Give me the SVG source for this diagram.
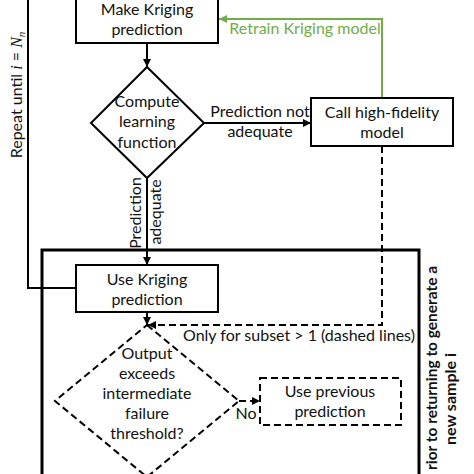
<svg xmlns="http://www.w3.org/2000/svg" width="474" height="474" viewBox="0 0 474 474">
<style>
text{font-family:Lato,"Open Sans","Liberation Sans",sans-serif;font-size:16px;fill:#111;text-anchor:middle}
.box{fill:#fff;stroke:#000;stroke-width:2}
.dbox{fill:#fff;stroke:#000;stroke-width:2;stroke-dasharray:7 4}
.ln{fill:none;stroke:#000;stroke-width:2}
.dln{fill:none;stroke:#000;stroke-width:2;stroke-dasharray:7 4}
.gln{fill:none;stroke:#70AD47;stroke-width:2}
.thick{fill:none;stroke:#000;stroke-width:3}
.green{fill:#70AD47}
.bold{font-weight:bold}
.math{font-family:"Liberation Serif","DejaVu Serif",serif;font-style:italic}
</style>
<defs>
<marker id="ah" viewBox="0 0 10 10" refX="10" refY="5" markerWidth="8" markerHeight="8" markerUnits="userSpaceOnUse" orient="auto"><path d="M0,0 L10,5 L0,10 z" fill="#000"/></marker>
<marker id="ahg" viewBox="0 0 10 10" refX="10" refY="5" markerWidth="8" markerHeight="8" markerUnits="userSpaceOnUse" orient="auto"><path d="M0,0 L10,5 L0,10 z" fill="#70AD47"/></marker>
</defs>

<g id="outer-frame">
<path class="thick" d="M42,480 V250 H419 V480"/>
</g>

<g id="connectors">
<path class="ln" d="M76,288 H28 V-5"/>
<path class="ln" d="M147,43 V67" marker-end="url(#ah)"/>
<path class="ln" d="M204,123 H311" marker-end="url(#ah)"/>
<path class="ln" d="M147,178 V265" marker-end="url(#ah)"/>
<path class="ln" d="M147,312 V325" marker-end="url(#ah)"/>
<path class="gln" d="M382,98 V19 H219" marker-end="url(#ahg)"/>
<path class="dln" d="M382,146 V325 H148" marker-end="url(#ah)"/>
<path class="dln" d="M239,401 H260" marker-end="url(#ah)"/>
</g>

<g id="make-kriging">
<rect class="box" x="76" y="-5" width="142" height="48"/>
<text x="147" y="15">Make Kriging</text>
<text x="147" y="35">prediction</text>
</g>

<g id="compute-learning">
<path class="box" d="M147,67 L204,123 L147,178 L91,123 Z"/>
<text x="147" y="107">Compute</text>
<text x="147" y="127">learning</text>
<text x="147" y="148">function</text>
</g>

<g id="call-hf">
<rect class="box" x="311" y="98" width="142" height="48"/>
<text x="382" y="118">Call high-fidelity</text>
<text x="382" y="138">model</text>
</g>

<g id="use-kriging">
<rect class="box" x="76" y="265" width="142" height="47"/>
<text x="147" y="285">Use Kriging</text>
<text x="147" y="305">prediction</text>
</g>

<g id="output-exceeds">
<path class="dbox" d="M147,325 L239,401 L147,477 L55,401 Z"/>
<text x="147" y="359">Output</text>
<text x="147" y="379">exceeds</text>
<text x="147" y="399">intermediate</text>
<text x="147" y="419">failure</text>
<text x="147" y="439">threshold?</text>
</g>

<g id="use-previous">
<rect class="dbox" x="260" y="378" width="141" height="47"/>
<text x="330" y="397">Use previous</text>
<text x="330" y="417">prediction</text>
</g>

<g id="labels">
<text x="260" y="117">Prediction not</text>
<text x="260" y="137">adequate</text>
<text transform="translate(141,213) rotate(-90)">Prediction</text>
<text transform="translate(161,212) rotate(-90)">adequate</text>
<text class="green" x="305" y="34">Retrain Kriging model</text>
<text x="299" y="341">Only for subset &gt; 1 (dashed lines)</text>
<text x="246" y="419">No</text>
<text transform="translate(22,95) rotate(-90)">Repeat until <tspan class="math">i</tspan> = <tspan class="math">N</tspan><tspan class="math" font-size="11" dy="3">n</tspan></text>
<text class="bold" transform="translate(437,368) rotate(-90)" font-size="15" textLength="204" lengthAdjust="spacingAndGlyphs">rior to returning to generate a</text>
<text class="bold" transform="translate(456,399) rotate(-90)" font-size="15">new sample i</text>
</g>
</svg>
